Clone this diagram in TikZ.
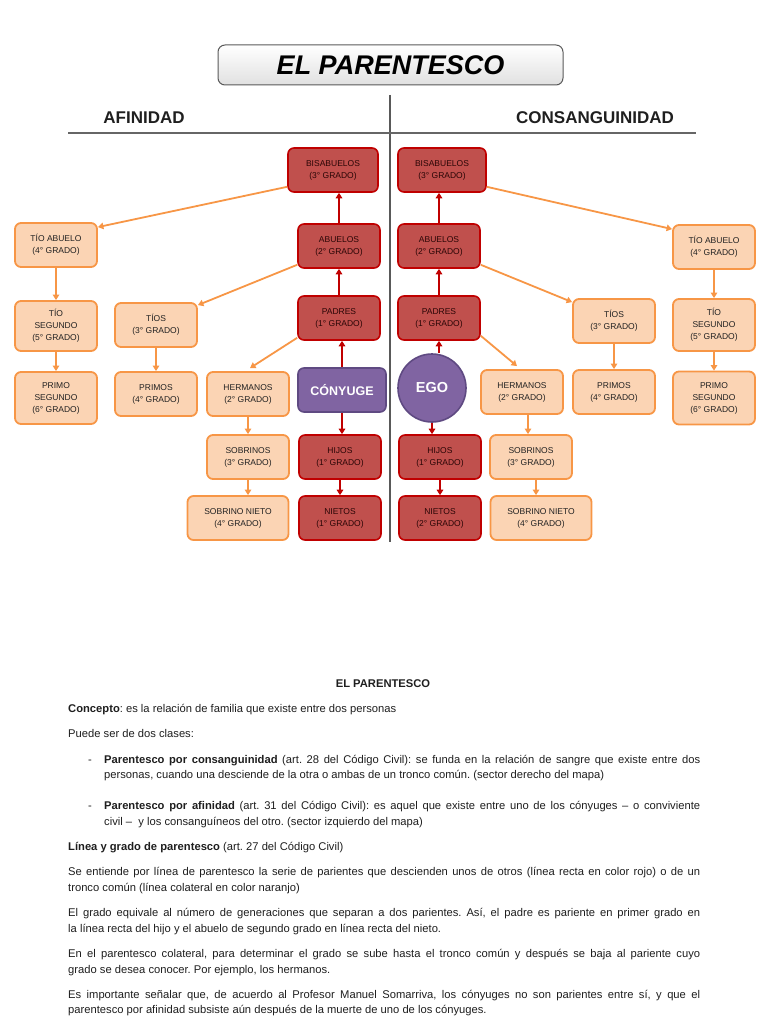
\documentclass[tikz,border=0pt]{standalone}
\usepackage{fontspec}
\setmainfont{Liberation Sans}
\usetikzlibrary{arrows.meta,shapes.geometric}
\definecolor{mred}{HTML}{C0504D}
\definecolor{dred}{HTML}{C00000}
\definecolor{redtxt}{HTML}{2A0606}
\definecolor{orfill}{HTML}{FBD4B4}
\definecolor{orline}{HTML}{F79646}
\definecolor{ortxt}{HTML}{222222}
\definecolor{pfill}{HTML}{8064A2}
\definecolor{pline}{HTML}{5F4A82}
\definecolor{rulegray}{HTML}{666666}
\definecolor{bodytxt}{HTML}{1E1E1E}
\newcommand\bxfont{\fontsize{8.5}{12}\selectfont}
\newcommand\bodyfont{\fontsize{11.2}{15}\selectfont}
\frenchspacing
\tikzset{
  basebox/.style={rounded corners=6pt, minimum width=82pt, minimum height=44pt, inner sep=1pt, align=center, font=\bxfont},
  redbox/.style={basebox, draw=dred, fill=mred, line width=1.6pt, text=redtxt},
  orbox/.style={basebox, draw=orline, fill=orfill, line width=1.8pt, text=ortxt},
  redarr/.style={draw=dred, line width=1.6pt, -{Triangle[length=5.5pt,width=6.5pt]}},
  orarr/.style={draw=orline, line width=1.8pt, -{Triangle[length=5.5pt,width=6.5pt]}},
  txt/.style={anchor=base west, inner sep=0pt, font=\bodyfont, text=bodytxt},
  sidehead/.style={font=\fontsize{17}{20}\selectfont\bfseries, text=black!88},
}
\begin{document}
\begin{tikzpicture}[x=1pt,y=-1pt]
\useasboundingbox (0,0) rectangle (768,1024);
% title
\node[draw=black!65, line width=1pt, rounded corners=7pt, top color=white, bottom color=black!12,
      minimum width=345pt, minimum height=40pt, inner sep=0pt,
      font=\fontsize{27}{30}\selectfont\bfseries\itshape] (title) at (390.5,65) {EL PARENTESCO};
\coordinate (vtop) at (390,95);
\coordinate (vbot) at (390,542);
\draw[black!65, line width=1.3pt] (vtop) -- (vbot);
\coordinate (hl) at (68,133);
\coordinate (hr) at (696,133);
\draw[rulegray, line width=2pt] (hl) -- (hr);
\node[sidehead] (afin) at (144,118) {AFINIDAD};
\node[sidehead] (consa) at (595,118) {CONSANGUINIDAD};

% left side (afinidad)
\node[redbox, minimum width=90pt] (bisL) at (333,170) {BISABUELOS\\(3° GRADO)};
\node[redbox] (abL) at (339,246) {ABUELOS\\(2° GRADO)};
\node[redbox] (padL) at (339,318) {PADRES\\(1° GRADO)};
\node[orbox] (tioabL) at (56,245) {TÍO ABUELO\\(4° GRADO)};
\node[orbox, minimum height=50pt] (tiosegL) at (56,326) {TÍO\\SEGUNDO\\(5° GRADO)};
\node[orbox, minimum height=52pt] (primsegL) at (56,398) {PRIMO\\SEGUNDO\\(6° GRADO)};
\node[orbox] (tiosL) at (156,325) {TÍOS\\(3° GRADO)};
\node[orbox] (primosL) at (156,394) {PRIMOS\\(4° GRADO)};
\node[orbox] (hermL) at (248,394) {HERMANOS\\(2° GRADO)};
\node[basebox, draw=pline, fill=pfill, line width=1.6pt, minimum width=88pt, text=white,
      font=\fontsize{12.5}{14}\selectfont\bfseries] (cony) at (342,390) {CÓNYUGE};
\node[orbox] (sobL) at (248,457) {SOBRINOS\\(3° GRADO)};
\node[orbox, minimum width=101pt] (sobnL) at (238,518) {SOBRINO NIETO\\(4° GRADO)};
\node[redbox] (hijL) at (340,457) {HIJOS\\(1° GRADO)};
\node[redbox] (nietL) at (340,518) {NIETOS\\(1° GRADO)};

% right side (consanguinidad)
\node[redbox, minimum width=88pt] (bisR) at (442,170) {BISABUELOS\\(3° GRADO)};
\node[redbox] (abR) at (439,246) {ABUELOS\\(2° GRADO)};
\node[redbox] (padR) at (439,318) {PADRES\\(1° GRADO)};
\node[orbox] (tioabR) at (714,247) {TÍO ABUELO\\(4° GRADO)};
\node[orbox] (tiosR) at (614,321) {TÍOS\\(3° GRADO)};
\node[orbox, minimum height=52pt] (tiosegR) at (714,325) {TÍO\\SEGUNDO\\(5° GRADO)};
\node[orbox, minimum height=53pt] (primsegR) at (714,398) {PRIMO\\SEGUNDO\\(6° GRADO)};
\node[circle, draw=pline, fill=pfill, line width=1.6pt, minimum size=68pt, inner sep=0pt, text=white,
      font=\fontsize{14.5}{16}\selectfont\bfseries] (ego) at (432,388) {EGO};
\node[orbox] (hermR) at (522,392) {HERMANOS\\(2° GRADO)};
\node[orbox] (primosR) at (614,392) {PRIMOS\\(4° GRADO)};
\node[orbox] (sobR) at (531,457) {SOBRINOS\\(3° GRADO)};
\node[orbox, minimum width=101pt] (sobnR) at (541,518) {SOBRINO NIETO\\(4° GRADO)};
\node[redbox] (hijR) at (440,457) {HIJOS\\(1° GRADO)};
\node[redbox] (nietR) at (440,518) {NIETOS\\(2° GRADO)};

% left arrows
\draw[orarr] ([yshift=6pt]bisL.south west) -- ([yshift=-5pt]tioabL.north east);
\draw[orarr] ([yshift=4pt]abL.south west) -- ([yshift=-3pt]tiosL.north east);
\draw[orarr] ([yshift=3pt]padL.south west) -- ([xshift=2pt,yshift=3pt]hermL.north);
\draw[orarr] (tioabL.south) -- (tiosegL.north);
\draw[orarr] (tiosegL.south) -- (primsegL.north);
\draw[orarr] (tiosL.south) -- (primosL.north);
\draw[orarr] (hermL.south) -- (sobL.north);
\draw[orarr] (sobL.south) -- (sobL.south |- sobnL.north);
\draw[redarr] (padL.north) -- (abL.south);
\draw[redarr] (abL.north) -- (abL.north |- bisL.south);
\draw[redarr] (cony.north) -- (cony.north |- padL.south);
\draw[redarr] (cony.south) -- (cony.south |- hijL.north);
\draw[redarr] (hijL.south) -- (nietL.north);

% right arrows
\draw[orarr] ([yshift=6pt]bisR.south east) -- ([yshift=-5pt]tioabR.north west);
\draw[orarr] ([yshift=4pt]abR.south east) -- ([yshift=-4pt]tiosR.north west);
\draw[orarr] ([yshift=5pt]padR.south east) -- ([xshift=-5pt,yshift=3pt]hermR.north);
\draw[orarr] (tioabR.south) -- (tiosegR.north);
\draw[orarr] (tiosegR.south) -- (primsegR.north);
\draw[orarr] (tiosR.south) -- (tiosR.south |- primosR.north);
\draw[orarr] ([xshift=6pt]hermR.south) -- ([xshift=6pt]hermR.south |- sobR.north);
\draw[orarr] ([xshift=5pt]sobR.south) -- ([xshift=5pt]sobR.south |- sobnR.north);
\draw[redarr] (abR.north) -- (abR.north |- bisR.south);
\draw[redarr] (padR.north) -- (abR.south);
\draw[redarr] (ego.north -| padR.south) -- (padR.south);
\draw[redarr] (ego.south) -- (ego.south |- hijR.north);
\draw[redarr] (hijR.south) -- (nietR.north);

% text
\node[anchor=base, inner sep=0pt, font=\bodyfont\bfseries, text=bodytxt] (t0) at (383,687) {EL PARENTESCO};
\node[txt] (t1) at (68,712) {\textbf{Concepto}: es la relación de familia que existe entre dos personas};
\node[txt] (t2) at (68,737) {Puede ser de dos clases:};
\node[txt] (d1) at (88,763) {-};
\node[txt] (t3) at (104,763) {\makebox[596pt][s]{\textbf{Parentesco por consanguinidad} (art. 28 del Código Civil): se funda en la relación de sangre que existe entre dos}};
\node[txt] (t4) at (104,778) {personas, cuando una desciende de la otra o ambas de un tronco común. (sector derecho del mapa)};
\node[txt] (d2) at (88,809) {-};
\node[txt] (t5) at (104,809) {\makebox[596pt][s]{\textbf{Parentesco por afinidad} (art. 31 del Código Civil): es aquel que existe entre uno de los cónyuges – o conviviente}};
\node[txt] (t6) at (104,825) {civil –\ \ y los consanguíneos del otro. (sector izquierdo del mapa)};
\node[txt] (t7) at (68,850) {\textbf{Línea y grado de parentesco} (art. 27 del Código Civil)};
\node[txt] (t8) at (68,875) {\makebox[632pt][s]{Se entiende por línea de parentesco la serie de parientes que descienden unos de otros (línea recta en color rojo) o de un}};
\node[txt] (t9) at (68,891) {tronco común (línea colateral en color naranjo)};
\node[txt] (t10) at (68,916) {\makebox[632pt][s]{El grado equivale al número de generaciones que separan a dos parientes. Así, el padre es pariente en primer grado en}};
\node[txt] (t11) at (68,932) {la línea recta del hijo y el abuelo de segundo grado en línea recta del nieto.};
\node[txt] (t12) at (68,957) {\makebox[632pt][s]{En el parentesco colateral, para determinar el grado se sube hasta el tronco común y después se baja al pariente cuyo}};
\node[txt] (t13) at (68,973) {grado se desea conocer. Por ejemplo, los hermanos.};
\node[txt] (t14) at (68,998) {\makebox[632pt][s]{Es importante señalar que, de acuerdo al Profesor Manuel Somarriva, los cónyuges no son parientes entre sí, y que el}};
\node[txt] (t15) at (68,1013) {parentesco por afinidad subsiste aún después de la muerte de uno de los cónyuges.};
\end{tikzpicture}
\end{document}
